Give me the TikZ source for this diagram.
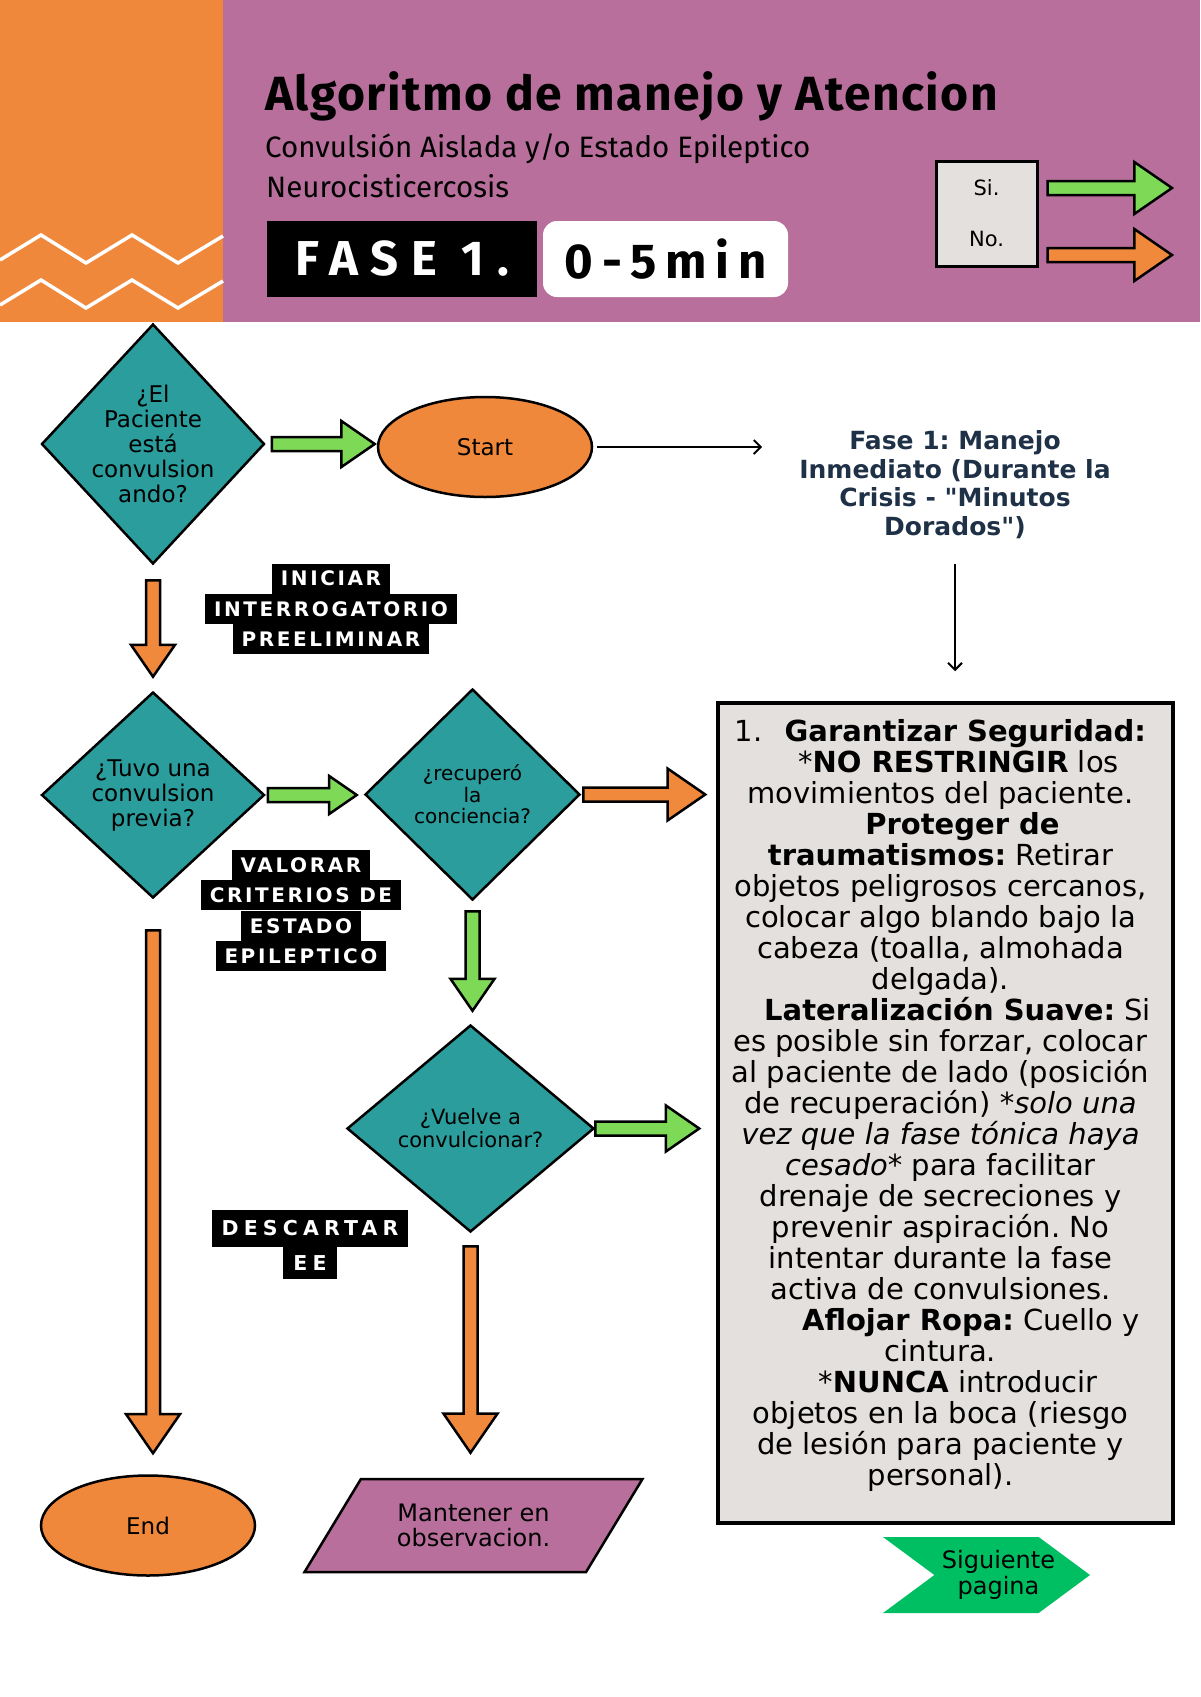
\documentclass[tikz,border=0pt]{standalone}
\usepackage{fontspec}
\setmainfont{DejaVu Sans}
\newfontfamily\plainfont{DejaVu Sans}
\newfontfamily\headfont{Fira Sans}
\newfontfamily\titlefont{Fira Sans}[LetterSpace=3]
\newfontfamily\fasefont{Fira Sans}[LetterSpace=26]
\newfontfamily\timefont{Fira Sans}[LetterSpace=18]
\newfontfamily\tagfont{DejaVu Sans}[LetterSpace=13]
\newfontfamily\tagwide{DejaVu Sans}[LetterSpace=25]
\usepackage{xcolor}
\usepackage{tikz}
\usetikzlibrary{arrows.meta,positioning,calc,shapes.geometric,shapes.symbols}

\definecolor{hdrpurple}{HTML}{B86F9B}
\definecolor{hdrorange}{HTML}{F0883B}
\definecolor{dteal}{HTML}{2A9D9C}
\definecolor{argreen}{HTML}{7ED957}
\definecolor{arorange}{HTML}{F0893B}
\definecolor{boxgray}{HTML}{E4E0DD}
\definecolor{navy}{HTML}{1F3147}
\definecolor{sgreen}{HTML}{00BF63}

% block arrow: [head half width]{fill}{from}{to}
\newcommand{\blockarrow}[4][24pt]{%
  \path #3 coordinate (ba-s) #4 coordinate (ba-e);
  \coordinate (ba-h) at ($(ba-e)!1.45*#1!(ba-s)$);
  \draw[blockline, fill=#2]
    ($(ba-s)!7pt!90:(ba-e)$) -- ($(ba-h)!7pt!90:(ba-e)$) --
    ($(ba-h)!#1!90:(ba-e)$) -- (ba-e) --
    ($(ba-h)!#1!-90:(ba-e)$) -- ($(ba-h)!7pt!-90:(ba-e)$) --
    ($(ba-s)!7pt!-90:(ba-e)$) -- cycle;}

\frenchspacing
\begin{document}
\frenchspacing
\begin{tikzpicture}[x=1pt, y=-1pt,
  decision/.style={diamond, draw, line width=2.5pt, fill=dteal, inner sep=0pt},
  dtext/.style={align=center, font=\fontsize{23}{25}\selectfont},
  terminal/.style={ellipse, draw, line width=2.5pt, fill=hdrorange,
    minimum width=214pt, minimum height=100pt, font=\fontsize{23}{25}\selectfont},
  datos/.style={trapezium, trapezium left angle=51, trapezium right angle=129,
    trapezium stretches=true, draw, line width=2.5pt, fill=hdrpurple,
    minimum width=339pt, minimum height=93pt, align=center,
    font=\fontsize{24}{25}\selectfont},
  tag/.style={fill=black, text=white, inner xsep=9pt, inner ysep=0pt,
    minimum height=30pt, text height=14.6pt, text depth=0pt,
    font=\tagfont\bfseries\fontsize{20}{22}\selectfont},
  widetag/.style={tag, inner xsep=10pt, font=\tagwide\bfseries\fontsize{20.5}{22}\selectfont},
  blockline/.style={draw=black, line width=2.5pt, line join=miter},
  thinarrow/.style={-{Straight Barb[length=7pt,width=14pt]}, line width=2pt},
  zigzag/.style={white, line width=3.5pt}]

  \useasboundingbox (0,0) rectangle (1200,1697);

  \fill[hdrpurple] (0,0) rectangle (1200,322);
  \fill[hdrorange] (0,0) rectangle (223,322);
  \draw[zigzag] (0,260) -- (41,235) -- (86,263) -- (132,235) -- (178,263) -- (223,236);
  \draw[zigzag] (0,305) -- (41,280) -- (86,308) -- (132,280) -- (178,308) -- (223,281);

  \node[anchor=base west, inner sep=0pt, font=\titlefont\bfseries\fontsize{48}{50}\selectfont]
    (titulo) at (265,110) {Algoritmo de manejo y Atencion};
  \node[anchor=base west, inner sep=0pt, font=\headfont\fontsize{29.5}{30}\selectfont]
    (sub1) at (265,157) {Convulsión Aislada y/o Estado Epileptico};
  \node[anchor=base west, inner sep=0pt, font=\headfont\fontsize{29.5}{30}\selectfont]
    (sub2) at (266,197) {Neurocisticercosis};
  \node[fill=black, text=white, minimum width=270pt, minimum height=76pt,
    font=\fasefont\bfseries\fontsize{49}{50}\selectfont] (fase1) at (402,259) {FASE 1.};
  \node[fill=white, rounded corners=14pt, minimum width=245pt, minimum height=76pt,
    font=\timefont\bfseries\fontsize{49}{50}\selectfont] (tiempo) at (665.5,259) {0-5min};

  \node[draw, line width=3pt, fill=boxgray, minimum width=101pt, minimum height=105pt,
    align=center, font=\fontsize{21}{51}\selectfont] (legend) at (986.5,213.5) {Si.\\No.};
  \coordinate (sitip) at (1172,188);
  \coordinate (notip) at (1172,255);
  \blockarrow[26pt]{argreen}{($(legend.east)+(9,-25.5)$)}{(sitip)}
  \blockarrow[26pt]{arorange}{($(legend.east)+(9,41.5)$)}{(notip)}

  \node[decision, minimum width=223pt, minimum height=240pt,
    label={[dtext]center:{¿El\\Paciente\\está\\convulsion\\ando?}}] (d1) at (153,444) {};
  \node[terminal] (start) at (485,447) {Start};
  \node[align=center, inner sep=0pt, text=navy,
    font=\plainfont\bfseries\fontsize{25}{28.5}\selectfont] (fase) at (955,484.5)
    {Fase 1: Manejo\\Inmediato (Durante la\\Crisis - "Minutos\\Dorados")};

  \node[decision, minimum width=223pt, minimum height=206pt,
    label={[dtext]center:{¿Tuvo una\\convulsion\\previa?}}] (d2) at (153,795) {};
  \node[decision, minimum width=215pt, minimum height=211pt,
    label={[dtext, font=\fontsize{20}{21.5}\selectfont]center:{¿recuperó\\la\\conciencia?}}]
    (d3) at (472.5,794.5) {};
  \node[decision, minimum width=247pt, minimum height=207pt,
    label={[dtext, font=\fontsize{21}{23}\selectfont]center:{¿Vuelve a\\convulcionar?}}]
    (d4) at (470.5,1128.5) {};
  \node[terminal] (fin) at (148,1525.5) {End};
  \node[datos] (obs) at (473.5,1525.5) {Mantener en\\observacion.};

  \node[tag] (ini1) at (331,578.5) {INICIAR};
  \node[tag, below=0pt of ini1] (ini2) {INTERROGATORIO};
  \node[tag, below=0pt of ini2] (ini3) {PREELIMINAR};

  \node[tag] (val1) at (301,865) {VALORAR};
  \node[tag, below=0pt of val1] (val2) {CRITERIOS DE};
  \node[tag, below=0pt of val2] (val3) {ESTADO};
  \node[tag, below=0pt of val3] (val4) {EPILEPTICO};

  \node[widetag, minimum height=37pt] (des1) at (310,1228.5) {DESCARTAR};
  \node[widetag, minimum height=32pt, below=0pt of des1] (des2) {EE};

  \node[draw, line width=3.5pt, fill=boxgray, minimum width=455pt, minimum height=820pt]
    (caja) at (945.5,1113) {};
  \node[align=center, inner sep=0pt, font=\fontsize{29}{31}\selectfont] (segtext) at (940.5,1105) {%
    1.\hspace{22pt}\textbf{Garantizar Seguridad:}\\
    \hspace*{36pt}*\textbf{NO RESTRINGIR} los\\
    movimientos del paciente.\\
    \hspace*{44pt}\textbf{Proteger de}\\
    \textbf{traumatismos:} Retirar\\
    objetos peligrosos cercanos,\\
    colocar algo blando bajo la\\
    cabeza (toalla, almohada\\
    delgada).\\
    \hspace*{34pt}\textbf{Lateralización Suave:} Si\\
    es posible sin forzar, colocar\\
    al paciente de lado (posición\\
    de recuperación) \textit{*solo una}\\
    \textit{vez que la fase tónica haya}\\
    \textit{cesado*} para facilitar\\
    drenaje de secreciones y\\
    prevenir aspiración. No\\
    intentar durante la fase\\
    activa de convulsiones.\\
    \hspace*{61pt}\textbf{Aflojar Ropa:} Cuello y\\
    cintura.\\
    \hspace*{35pt}*\textbf{NUNCA} introducir\\
    objetos en la boca (riesgo\\
    de lesión para paciente y\\
    personal).};

  \node[signal, signal to=east, signal from=west, signal pointer angle=73, fill=sgreen,
    inner sep=0pt, minimum width=207pt, minimum height=76pt,
    label={[align=center, xshift=12pt, font=\fontsize{24}{26}\selectfont]center:{Siguiente\\pagina}}]
    (sig) at (986.5,1575) {};

  \blockarrow[23pt]{argreen}{($(d1.east)+(6,0)$)}{($(d1.east -| start.west)+(-2,0)$)}
  \blockarrow[22pt]{arorange}{($(d1.south)+(0,15)$)}{($(d2.north)+(0,-14)$)}
  \blockarrow[19pt]{argreen}{($(d2.east)+(2,0)$)}{($(d2.east -| d3.west)+(-7,0)$)}
  \blockarrow[26pt]{arorange}{($(d3.east)+(2,0)$)}{($(d3.east -| caja.west)+(-11,0)$)}
  \blockarrow[22pt]{argreen}{($(d3.south)+(0,10)$)}{($(d3.south |- d4.north)+(0,-13)$)}
  \blockarrow[23pt]{argreen}{(d4.east)}{($(d4.east -| caja.west)+(-17,0)$)}
  \blockarrow[27pt]{arorange}{($(d2.south)+(0,31)$)}{($(d2.south |- fin.north)+(0,-21)$)}
  \blockarrow[27pt]{arorange}{($(d4.south)+(0,13)$)}{($(d4.south |- obs.north)+(0,-25)$)}

  \draw[thinarrow, shorten <=4pt, shorten >=37pt] (start.east) -- (start.east -| fase.west);
  \draw[thinarrow, shorten <=25pt, shorten >=30pt] (fase.south) -- (fase.south |- caja.north);
\end{tikzpicture}
\end{document}
